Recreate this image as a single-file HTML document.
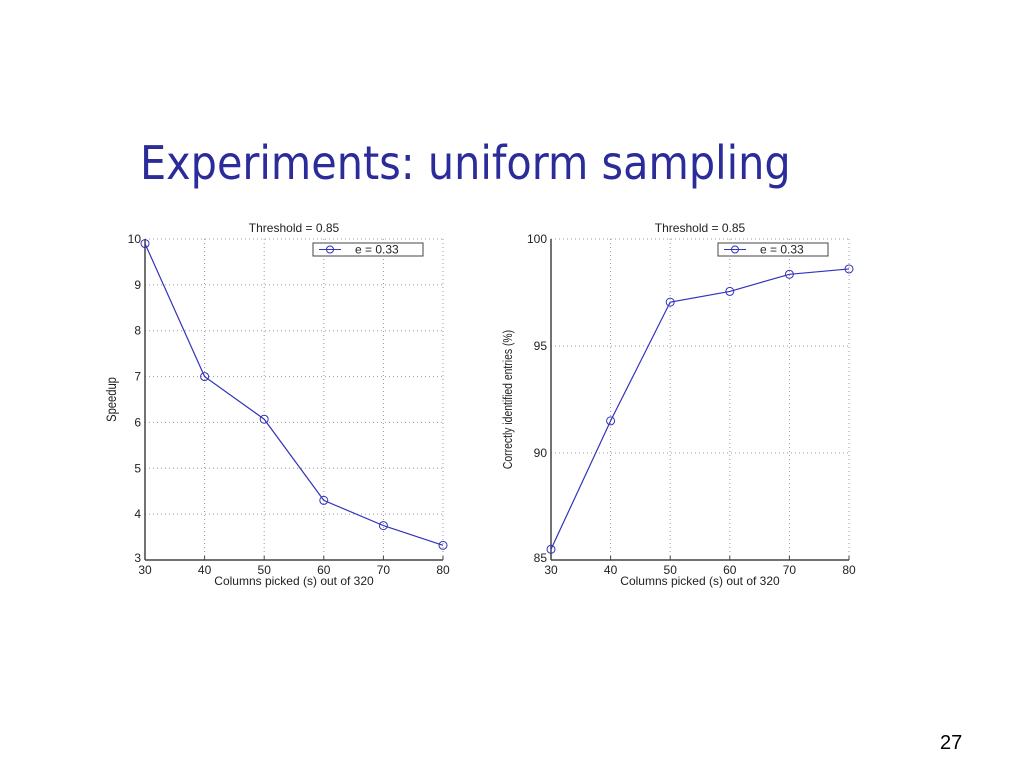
<!DOCTYPE html>
<html><head><meta charset="utf-8"><style>
body{margin:0;width:1024px;height:768px;background:#fff;overflow:hidden;position:relative;font-family:"Liberation Sans",sans-serif}
#title{position:absolute;left:140px;top:136px;font-size:46px;color:#2b2b9a;font-family:"DejaVu Sans","Liberation Sans",sans-serif;transform:scaleX(0.9);transform-origin:0 0;white-space:nowrap}
#pnum{position:absolute;left:940px;top:732px;font-size:20px;color:#000}
svg{position:absolute;left:0;top:0}
</style></head><body>
<div id="title">Experiments: uniform sampling</div>
<div id="pnum">27</div>
<svg id="c" width="1024" height="768"></svg>
<script>
const categories=[30,40,50,60,70,80];
const speedup=[9.9,7.0,6.07,4.3,3.75,3.32];
const correct=[85.5,91.5,97.05,97.55,98.35,98.6];
const leftTicks=[3,4,5,6,7,8,9,10];
const rightTicks=[85,90,95,100];
const NS="http://www.w3.org/2000/svg";
const svg=document.getElementById('c');
function mk(t,a,p){const e=document.createElementNS(NS,t);for(const k in a)e.setAttribute(k,a[k]);(p||svg).appendChild(e);return e;}
function chart(o){
  const g=mk('g',{});
  
  
  const xs=v=>o.x0+(v-30)/50*(o.x1-o.x0);
  const ys=v=>o.y0-(v-o.ymin)/(o.ymax-o.ymin)*(o.y0-o.y1);
  categories.forEach(c=>{
    if(c>30){const l=mk('line',{x1:xs(c),x2:xs(c),y1:o.y0,y2:o.y1,stroke:'#999','stroke-dasharray':'1,3','stroke-width':1},g);}
    const t=mk('text',{x:xs(c),y:o.y0+14,'font-size':12,'text-anchor':'middle',fill:'#222'},g);t.textContent=c;
    
    mk('line',{x1:xs(c),x2:xs(c),y1:o.y0,y2:o.y0-4,stroke:'#444'},g);
  });
  o.ticks.forEach(v=>{
    if(v>o.ymin){const l=mk('line',{x1:o.x0,x2:o.x1,y1:ys(v),y2:ys(v),stroke:'#999','stroke-dasharray':'1,3'},g);}
    const t=mk('text',{x:o.x0-4,y:ys(v)+(v==o.ymin?2:4),'font-size':12,'text-anchor':'end',fill:'#222'},g);t.textContent=v;
    
  });
  mk('line',{x1:o.x0,x2:o.x0,y1:o.y0,y2:o.y1,stroke:'#444','stroke-width':1.5},g);
  mk('line',{x1:o.x0,x2:o.x1,y1:o.y0,y2:o.y0,stroke:'#444','stroke-width':1.5},g);
  const pts=o.data.map((v,i)=>xs(categories[i])+','+ys(v)).join(' ');
  const pl=mk('polyline',{points:pts,fill:'none',stroke:'#3333bb','stroke-width':1.2},g);
  
  o.data.forEach((v,i)=>{const c=mk('circle',{cx:xs(categories[i]),cy:ys(v),r:4,fill:'none',stroke:'#3333bb'},g);
    });
  const tt=mk('text',{x:(o.x0+o.x1)/2,y:o.y1-7,'font-size':12,'text-anchor':'middle',fill:'#222'},g);tt.textContent='Threshold = 0.85';
  
  const xl=mk('text',{x:(o.x0+o.x1)/2,y:o.y0+25,'font-size':12,'text-anchor':'middle',fill:'#222'},g);xl.textContent='Columns picked (s) out of 320';
  
  const yl=mk('text',{x:0,y:0,'font-size':o.yfs,'text-anchor':'middle',fill:'#222',transform:`translate(${o.ylx},${(o.y0+o.y1)/2}) rotate(-90) scale(0.8,1)`},g);yl.textContent=o.ylabel;
  
  const lg=mk('g',{},g);
  mk('rect',{x:o.lx,y:o.y1+4,width:110,height:13,fill:'#fff',stroke:'#444'},lg);
  mk('line',{x1:o.lx+6,x2:o.lx+28,y1:o.y1+10.5,y2:o.y1+10.5,stroke:'#3333bb'},lg);
  mk('circle',{cx:o.lx+17,cy:o.y1+10.5,r:3.5,fill:'none',stroke:'#3333bb'},lg);
  const lt=mk('text',{x:o.lx+42,y:o.y1+14.5,'font-size':12,fill:'#222'},lg);lt.textContent='e = 0.33';
}
chart({name:'speedup-chart',x0:145,x1:443,y0:560,y1:239,ymin:3,ymax:10,ticks:leftTicks,data:speedup,ylabel:'Speedup',ylx:116,yfs:14,lx:313});
chart({name:'accuracy-chart',x0:551,x1:849,y0:560,y1:239,ymin:85,ymax:100,ticks:rightTicks,data:correct,ylabel:'Correctly identified entries (%)',ylx:512,yfs:13,lx:718});
</script>
</body></html>
